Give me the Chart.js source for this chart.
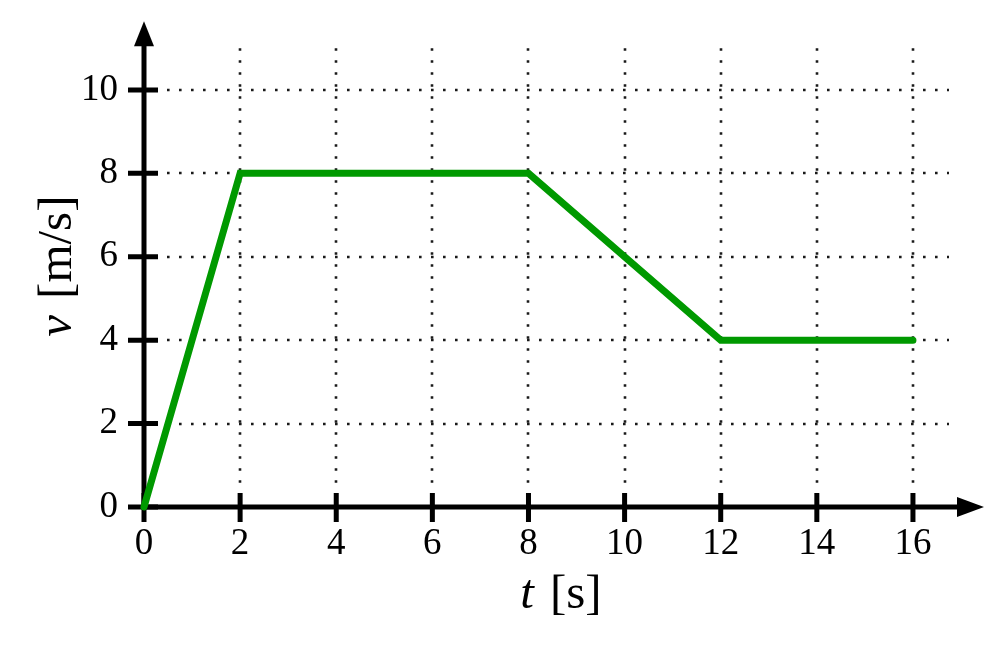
<!DOCTYPE html>
<html>
<head>
<meta charset="utf-8">
<script src="https://cdn.jsdelivr.net/npm/chart.js@4.4.1/dist/chart.umd.min.js"></script>
<style>
  html, body { margin: 0; padding: 0; background: #ffffff; }
  #wrap { width: 1000px; height: 650px; }
</style>
</head>
<body>
<div id="wrap"><canvas id="c" width="1000" height="650"></canvas></div>
<script>
// ---- data ----
const timeValues = [0, 2, 8, 12, 16];
const velocityValues = [0, 8, 8, 4, 4];
const xTickValues = [0, 2, 4, 6, 8, 10, 12, 14, 16];
const yTickValues = [0, 2, 4, 6, 8, 10];
const xAxisMax = 16.75;
const yAxisMax = 11;
const xTitleVar = 't';
const xTitleUnit = '[s]';
const yTitleVar = 'v';
const yTitleUnit = '[m/s]';

const SERIF = '"Liberation Serif", "DejaVu Serif", serif';
const INK = '#000000';

const decorPlugin = {
  id: 'decor',
  beforeDatasetsDraw(chart) {
    const ctx = chart.ctx;
    const xs = chart.scales.x, ys = chart.scales.y;
    const ca = chart.chartArea;
    const x0 = xs.getPixelForValue(0), y0 = ys.getPixelForValue(0);
    // dotted grid
    ctx.save();
    ctx.strokeStyle = '#1a1a1a';
    ctx.lineWidth = 2.6;
    ctx.setLineDash([2.6, 9.4]);
    ctx.lineCap = 'butt';
    xTickValues.forEach(v => {
      if (v === 0) return;
      const px = Math.round(xs.getPixelForValue(v));
      ctx.beginPath();
      ctx.moveTo(px, ca.top);
      ctx.lineTo(px, y0 - 22);
      ctx.stroke();
    });
    yTickValues.forEach(v => {
      if (v === 0) return;
      const py = Math.round(ys.getPixelForValue(v));
      ctx.beginPath();
      ctx.moveTo(x0 + 23, py);
      ctx.lineTo(ca.right, py);
      ctx.stroke();
    });
    ctx.restore();

    // axes lines
    ctx.save();
    ctx.strokeStyle = INK;
    ctx.fillStyle = INK;
    ctx.lineWidth = 5;
    ctx.setLineDash([]);
    const xTip = ca.right + 35, yTip = ca.top - 27;
    ctx.beginPath();
    ctx.moveTo(x0 - 2.5, y0);
    ctx.lineTo(xTip - 20, y0);
    ctx.moveTo(x0, y0 + 2.5);
    ctx.lineTo(x0, yTip + 20);
    ctx.stroke();
    // arrow heads
    ctx.beginPath();
    ctx.moveTo(xTip, y0);
    ctx.lineTo(xTip - 27, y0 - 10);
    ctx.lineTo(xTip - 27, y0 + 10);
    ctx.closePath();
    ctx.fill();
    ctx.beginPath();
    ctx.moveTo(x0, yTip);
    ctx.lineTo(x0 - 10, yTip + 25);
    ctx.lineTo(x0 + 10, yTip + 25);
    ctx.closePath();
    ctx.fill();
    // tick marks crossing the axes
    ctx.lineWidth = 5;
    ctx.lineCap = 'butt';
    ctx.beginPath();
    xTickValues.forEach(v => {
      const px = xs.getPixelForValue(v);
      ctx.moveTo(px, y0 - 14);
      ctx.lineTo(px, y0 + 15);
    });
    yTickValues.forEach(v => {
      const py = ys.getPixelForValue(v);
      ctx.moveTo(x0 - 16, py);
      ctx.lineTo(x0 + 14, py);
    });
    ctx.stroke();
    ctx.restore();
  },
  afterDraw(chart) {
    const ctx = chart.ctx;
    const ca = chart.chartArea;
    ctx.save();
    ctx.fillStyle = INK;
    ctx.textBaseline = 'alphabetic';
    const italic = 'italic 49px ' + SERIF;
    const upright = '49px ' + SERIF;
    const gap = 16;
    // x title
    ctx.font = italic;
    const wT = ctx.measureText(xTitleVar).width;
    ctx.font = upright;
    const wU = ctx.measureText(xTitleUnit).width;
    const total = wT + gap + wU;
    const cx = 561;
    const sx = cx - total / 2;
    ctx.textAlign = 'left';
    ctx.font = italic;
    ctx.fillText(xTitleVar, sx, 608);
    ctx.font = upright;
    ctx.fillText(xTitleUnit, sx + wT + gap, 608);
    // y title (rotated)
    ctx.translate(71, (ca.top - 27 + ca.bottom) / 2 + 2);
    ctx.rotate(-Math.PI / 2);
    ctx.font = italic;
    const wV = ctx.measureText(yTitleVar).width;
    ctx.font = upright;
    const wMU = ctx.measureText(yTitleUnit).width;
    const totY = wV + gap + wMU;
    ctx.font = italic;
    ctx.fillText(yTitleVar, -totY / 2, 0);
    ctx.font = upright;
    ctx.fillText(yTitleUnit, -totY / 2 + wV + gap, 0);
    ctx.restore();
  }
};

const points = timeValues.map((t, i) => ({ x: t, y: velocityValues[i] }));

new Chart(document.getElementById('c'), {
  type: 'line',
  data: {
    datasets: [{
      data: points,
      borderColor: '#009900',
      borderWidth: 7,
      pointRadius: 0,
      fill: false,
      tension: 0,
      clip: false,
      borderJoinStyle: 'miter',
      borderCapStyle: 'round'
    }]
  },
  options: {
    responsive: false,
    animation: false,
    devicePixelRatio: 1,
    layout: { padding: { top: 44, right: 51, left: 0, bottom: 0 } },
    plugins: { legend: { display: false }, tooltip: { enabled: false } },
    scales: {
      x: {
        type: 'linear',
        min: 0,
        max: xAxisMax,
        afterFit(s) { s.height = 143; },
        afterBuildTicks(s) { s.ticks = xTickValues.map(v => ({ value: v })); },
        grid: { display: false, drawTicks: false },
        border: { display: false },
        ticks: {
          color: INK,
          padding: 15,
          maxRotation: 0,
          autoSkip: false,
          font: { family: SERIF, size: 37 }
        }
      },
      y: {
        type: 'linear',
        min: 0,
        max: yAxisMax,
        afterFit(s) { s.width = 144; },
        afterBuildTicks(s) { s.ticks = yTickValues.map(v => ({ value: v })); },
        grid: { display: false, drawTicks: false },
        border: { display: false },
        ticks: {
          color: INK,
          padding: 26,
          autoSkip: false,
          font: { family: SERIF, size: 37 }
        }
      }
    }
  },
  plugins: [decorPlugin]
});
</script>
</body>
</html>
